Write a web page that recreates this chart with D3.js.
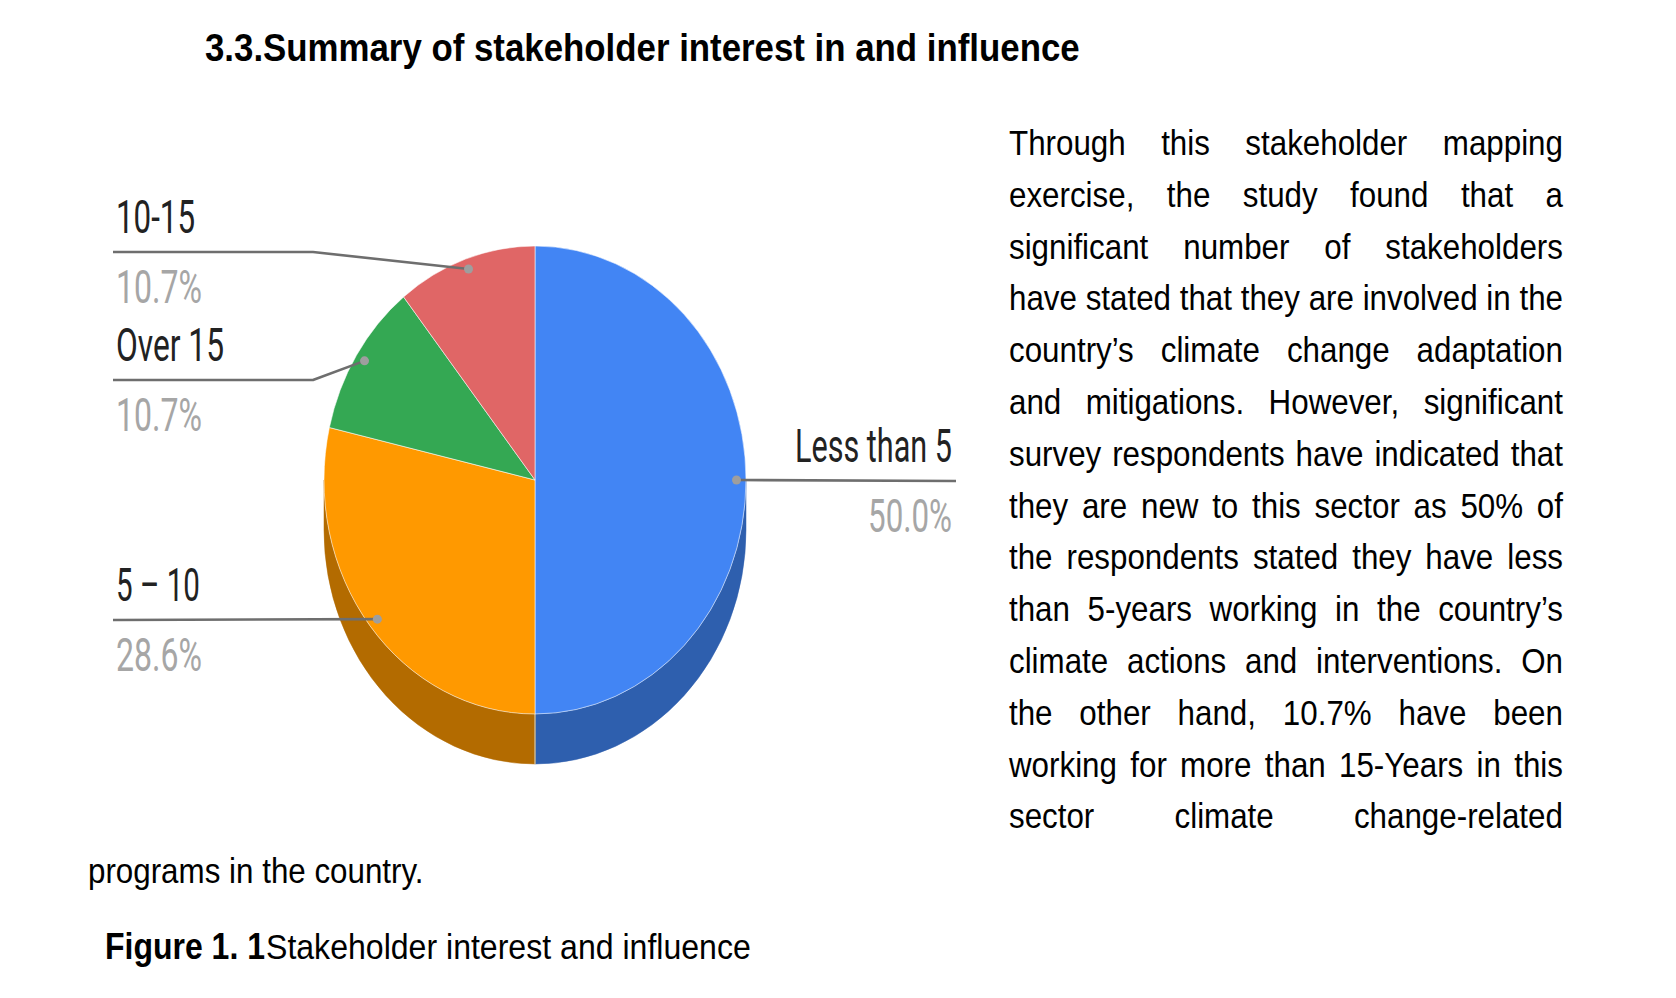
<!DOCTYPE html>
<html>
<head>
<meta charset="utf-8">
<script src="https://cdn.jsdelivr.net/npm/d3@7"></script>
<style>
html, body { margin: 0; padding: 0; background: #fff; }
svg { display: block; }
</style>
</head>
<body>
<svg id="page" width="1676" height="998"></svg>
<script>
// chart data
const categories = ["Less than 5", "5 – 10", "Over 15", "10-15"];
const shares = [50.0, 28.6, 10.7, 10.7];
const shareLabels = ["50.0%", "28.6%", "10.7%", "10.7%"];
const topColors = ["#4285f4", "#ff9900", "#34a853", "#e06666"];
const sideColors = ["#2e5fae", "#b36b00", "#25783c", "#a34a4a"];

// page text
const titleText = "3.3.Summary of stakeholder interest in and influence";
const bodyLines = [
    "Through this stakeholder mapping",
    "exercise, the study found that a",
    "significant number of stakeholders",
    "have stated that they are involved in the",
    "country’s climate change adaptation",
    "and mitigations. However, significant",
    "survey respondents have indicated that",
    "they are new to this sector as 50% of",
    "the respondents stated they have less",
    "than 5-years working in the country’s",
    "climate actions and interventions. On",
    "the other hand, 10.7% have been",
    "working for more than 15-Years in this",
    "sector climate change-related"
];
const tailLine = "programs in the country.";
const captionBold = "Figure 1. 1";
const captionRest = "Stakeholder interest and influence";

// layout
const pie3d = {cx: 535, cy: 480, rx: 211, ry: 234, depth: 50};
const R = 100; // unit radius, squeezed into the ellipse
const labelLayout = [
    {x: 952, lineY: 481, end: 956, anchor: "end", w: 157, pw: 84},
    {x: 116, lineY: 620, end: 113, anchor: "start", w: 84, pw: 86},
    {x: 116, lineY: 380, end: 113, elbow: 313, anchor: "start", w: 108, pw: 86},
    {x: 116, lineY: 252, end: 113, elbow: 313, anchor: "start", w: 79, pw: 86}
];
const body = {left: 1009, right: 1563, top: 155, step: 51.8, size: 36};
const textFont = "'Liberation Sans', Arial, sans-serif";
const labelFont = "Roboto, 'Liberation Sans', sans-serif";

const svg = d3.select('#page');
let scratch = svg.append('g');

function measure(str, font, size, weight) {
    let t = scratch.append('text')
        .attr('font-family', font)
        .attr('font-size', size)
        .attr('font-weight', weight || 'normal')
        .attr('xml:space', 'preserve')
        .text(str);
    let w = t.node().getComputedTextLength();
    t.remove();
    return w;
}

// writes one text squeezed sideways to a given width
function squeezedText(parent, str, x, y, width, opts) {
    let natural = measure(str, opts.font, opts.size, opts.weight);
    let k = width / natural;
    return parent.append('text')
        .attr('transform', 'translate(' + x + ',' + y + ') scale(' + k + ',1)')
        .attr('text-anchor', opts.anchor || 'start')
        .attr('font-family', opts.font)
        .attr('font-size', opts.size)
        .attr('font-weight', opts.weight || 'normal')
        .attr('fill', opts.fill || '#000')
        .text(str);
}

// title
squeezedText(svg, titleText, 205, 61, 875,
    {font: textFont, size: 38, weight: 'bold'});

// ---- 3d pie ----
let arcs = d3.pie().sort(null).value(d => d)(shares);
let arc = d3.arc().innerRadius(0).outerRadius(R);
let dotArc = d3.arc().innerRadius(R * 0.955).outerRadius(R * 0.955);

let sx = pie3d.rx / R, sy = pie3d.ry / R;
let px = a => pie3d.cx + pie3d.rx * Math.sin(a);
let py = a => pie3d.cy - pie3d.ry * Math.cos(a);

let sideGroup = svg.append('g').classed('sides', true);
arcs.forEach(function(d, i) {
    let a0 = Math.max(d.startAngle, Math.PI / 2);
    let a1 = Math.min(d.endAngle, Math.PI * 3 / 2);
    if (a1 <= a0) return;
    let dp = pie3d.depth;
    let path = 'M' + px(a0) + ',' + py(a0) +
        'A' + pie3d.rx + ',' + pie3d.ry + ' 0 0 1 ' + px(a1) + ',' + py(a1) +
        'L' + px(a1) + ',' + (py(a1) + dp) +
        'A' + pie3d.rx + ',' + pie3d.ry + ' 0 0 0 ' + px(a0) + ',' + (py(a0) + dp) + 'Z';
    sideGroup.append('path')
        .attr('d', path)
        .attr('fill', sideColors[i])
        .attr('stroke', sideColors[i])
        .attr('stroke-width', 0.5);
    // light seam where side pieces meet
    if (d.startAngle > Math.PI / 2 && d.startAngle < Math.PI * 3 / 2) {
        sideGroup.append('line')
            .attr('x1', px(d.startAngle)).attr('y1', py(d.startAngle))
            .attr('x2', px(d.startAngle)).attr('y2', py(d.startAngle) + dp)
            .attr('stroke', '#d9c9a8').attr('stroke-width', 1.2);
    }
});

svg.append('g')
    .attr('transform', 'translate(' + pie3d.cx + ',' + pie3d.cy + ') scale(' + sx + ',' + sy + ')')
    .selectAll('path')
    .data(arcs)
    .enter().append('path')
    .attr('d', arc)
    .attr('fill', (d, i) => topColors[i])
    .attr('stroke', 'rgba(255,255,255,0.55)')
    .attr('stroke-width', 1)
    .attr('vector-effect', 'non-scaling-stroke');

// leader lines, dots and labels
let labelGroup = svg.append('g').classed('labels', true);
arcs.forEach(function(d, i) {
    let c = dotArc.centroid(d);
    let dx = pie3d.cx + c[0] * sx, dy = pie3d.cy + c[1] * sy;
    let L = labelLayout[i];
    let pts = [[dx, dy]];
    if (L.elbow) pts.push([L.elbow, L.lineY]);
    pts.push([L.end, L.lineY]);
    labelGroup.append('path')
        .attr('d', d3.line()(pts))
        .attr('fill', 'none')
        .attr('stroke', '#6e6e6e')
        .attr('stroke-width', 2.6)
        .attr('stroke-linejoin', 'round');
    labelGroup.append('circle')
        .attr('cx', dx).attr('cy', dy).attr('r', 4.5)
        .attr('fill', '#9e9e9e');
    squeezedText(labelGroup, categories[i], L.x, L.lineY - 19, L.w,
        {font: labelFont, size: 46, anchor: L.anchor, fill: '#222'});
    squeezedText(labelGroup, shareLabels[i], L.x, L.lineY + 51, L.pw,
        {font: labelFont, size: 46, anchor: L.anchor, fill: '#a6a6a6'});
});

// ---- justified paragraph, word by word ----
let textGroup = svg.append('g').classed('body', true);
let colWidth = body.right - body.left;
// condense factor from the tightest line, which fills the column with plain spaces
let squeeze = colWidth / measure(bodyLines[3], textFont, body.size);

bodyLines.forEach(function(line, li) {
    let words = line.split(' ');
    let widths = words.map(w => measure(w, textFont, body.size) * squeeze);
    let gap = (colWidth - d3.sum(widths)) / (words.length - 1);
    let x = body.left;
    words.forEach(function(w, wi) {
        squeezedText(textGroup, w, x, body.top + li * body.step, widths[wi],
            {font: textFont, size: body.size});
        x += widths[wi] + gap;
    });
});

let tx = 88;
tailLine.split(' ').forEach(function(w) {
    let ww = measure(w, textFont, body.size) * squeeze;
    squeezedText(textGroup, w, tx, 883, ww, {font: textFont, size: body.size});
    tx += ww + measure('a a', textFont, body.size) * squeeze - measure('aa', textFont, body.size) * squeeze;
});

// caption
squeezedText(svg, captionBold, 105, 959, 160,
    {font: textFont, size: body.size, weight: 'bold'});
squeezedText(svg, captionRest, 266, 959, 485,
    {font: textFont, size: body.size});

scratch.remove();
</script>
</body>
</html>
